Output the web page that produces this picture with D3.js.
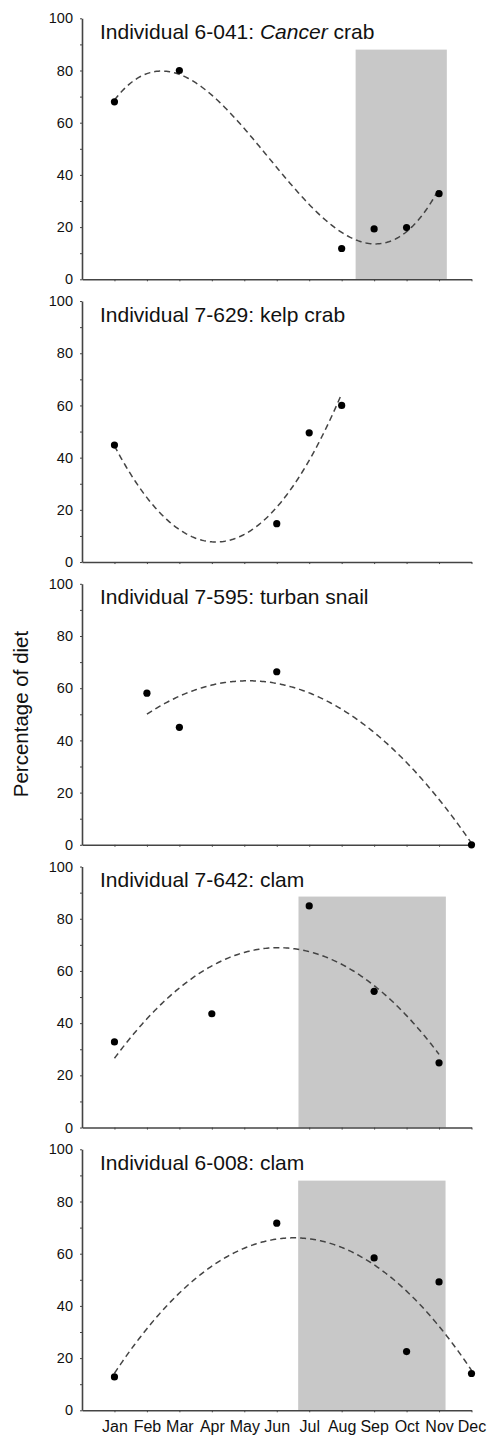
<!DOCTYPE html>
<html><head><meta charset="utf-8">
<script src="https://cdn.jsdelivr.net/npm/d3@7"></script>
<style>
html,body{margin:0;padding:0;background:#fff;}
svg{display:block;font-family:"Liberation Sans",Arial,Helvetica,sans-serif;}
</style></head>
<body>
<script>
// ---- data ----
const months = ["Jan","Feb","Mar","Apr","May","Jun","Jul","Aug","Sep","Oct","Nov","Dec"];
const yTickValues = [0,10,20,30,40,50,60,70,80,90,100];
const yLabel = "Percentage of diet";

const titlePrefix = ["Individual 6-041: ","Individual 7-629: kelp crab","Individual 7-595: turban snail","Individual 7-642: clam","Individual 6-008: clam"];
const titleItalic = ["Cancer","","","",""];
const titleSuffix = [" crab","","","",""];

const p1Months = [1,3,8,9,10,11];
const p1Values = [68,80,11.8,19.3,19.8,32.8];
const p2Months = [1,6,7,8];
const p2Values = [44.8,14.7,49.5,60];
const p3Months = [2,3,6,12];
const p3Values = [58.1,45,66.3,0];
const p4Months = [1,4,7,9,11];
const p4Values = [32.8,43.6,84.9,52.2,24.8];
const p5Months = [1,6,9,10,11,12];
const p5Values = [12.8,71.7,58.4,22.5,49.2,14.1];

const fitDegree = [3,2,2,2,2];
const shadeStart = [8.43,null,null,6.67,6.66];
const shadeEnd = [11.24,null,null,11.21,11.2];
const shadeTop = [88,null,null,88.5,88];

const panelMonths = [p1Months,p2Months,p3Months,p4Months,p5Months];
const panelValues = [p1Values,p2Values,p3Values,p4Values,p5Values];

// ---- least squares polynomial fit ----
function polyfit(xs, ys, deg){
  const n = deg+1;
  const A = Array.from({length:n},()=>new Array(n+1).fill(0));
  for(let i=0;i<xs.length;i++){
    for(let r=0;r<n;r++){
      for(let c=0;c<n;c++) A[r][c]+=Math.pow(xs[i],r+c);
      A[r][n]+=ys[i]*Math.pow(xs[i],r);
    }
  }
  for(let col=0;col<n;col++){
    let piv=col;
    for(let r=col+1;r<n;r++) if(Math.abs(A[r][col])>Math.abs(A[piv][col])) piv=r;
    [A[col],A[piv]]=[A[piv],A[col]];
    for(let r=0;r<n;r++){
      if(r===col) continue;
      const f=A[r][col]/A[col][col];
      for(let c=col;c<=n;c++) A[r][c]-=f*A[col][c];
    }
  }
  const coef=A.map((row,i)=>row[n]/row[i]);
  return x=>coef.reduce((s,c,i)=>s+c*Math.pow(x,i),0);
}

// ---- layout ----
const W=487,H=1435;
const svg=d3.select("body").append("svg").attr("width",W).attr("height",H);
const x=d3.scaleLinear().domain([0,12]).range([82,471.5]);
const panelH=261, firstBase=279.3, step=282.75;

for(let p=0;p<5;p++){
  const base=firstBase+step*p;
  const y=d3.scaleLinear().domain([0,100]).range([base,base-panelH]);
  const g=svg.append("g");

  if(shadeStart[p]!==null){
    g.append("rect")
      .attr("x",x(shadeStart[p])).attr("width",x(shadeEnd[p])-x(shadeStart[p]))
      .attr("y",y(shadeTop[p])).attr("height",y(0)-y(shadeTop[p]))
      .attr("fill","#c8c8c8");
  }

  // y axis
  const ya=g.append("g").attr("transform",`translate(${x(0)},0)`)
    .call(d3.axisLeft(y).tickValues(yTickValues).tickSize(2).tickPadding(7).tickSizeOuter(0)
      .tickFormat(d=>d%20===0?d:""));
  // x axis
  const xa=g.append("g").attr("transform",`translate(0,${y(0)})`)
    .call(d3.axisBottom(x).tickValues(d3.range(1,13)).tickSize(2).tickPadding(8).tickSizeOuter(0)
      .tickFormat(d=>p===4?months[d-1]:""));
  [ya,xa].forEach(a=>{
    a.select(".domain").attr("stroke","#444").attr("stroke-width",1.6);
    a.selectAll(".tick line").attr("stroke","#444").attr("stroke-width",1);
    a.selectAll("text").attr("fill","#111").style("font-family",'"Liberation Sans",Arial,sans-serif');
  });
  ya.selectAll("text").style("font-size","14.5px");
  xa.selectAll("text").style("font-size","16px");

  // trend
  const ms=panelMonths[p], vs=panelValues[p];
  const f=polyfit(ms,vs,fitDegree[p]);
  const x0=d3.min(ms), x1=d3.max(ms);
  const pts=d3.range(x0,x1+1e-9,0.05).map(t=>[t,f(t)]);
  g.append("path").datum(pts)
    .attr("d",d3.line().x(d=>x(d[0])).y(d=>y(d[1])))
    .attr("fill","none").attr("stroke","#444").attr("stroke-width",1.5)
    .attr("stroke-dasharray","6,4");

  // points
  g.selectAll("circle.pt").data(ms.map((m,i)=>[m,vs[i]])).enter().append("circle")
    .attr("class","pt").attr("cx",d=>x(d[0])).attr("cy",d=>y(d[1])).attr("r",3.6).attr("fill","#000");

  // title
  const t=g.append("text").attr("x",100).attr("y",y(100)+20.5)
    .style("font-size","21px").attr("fill","#111");
  t.append("tspan").text(titlePrefix[p]);
  if(titleItalic[p]) t.append("tspan").style("font-style","italic").text(titleItalic[p]);
  if(titleSuffix[p]) t.append("tspan").text(titleSuffix[p]);
}

svg.append("text").attr("transform","translate(27.5,714) rotate(-90)")
  .attr("text-anchor","middle").style("font-size","20.5px").attr("fill","#111").text(yLabel);
</script>
</body></html>
